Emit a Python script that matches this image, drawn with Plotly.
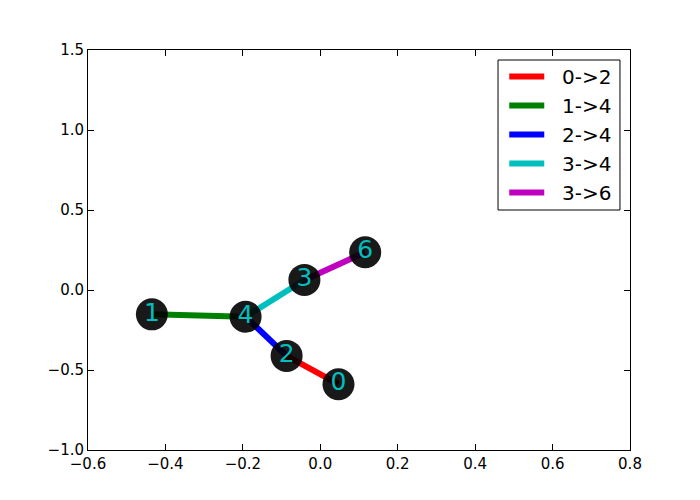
import plotly.graph_objects as go

font_family = 'DejaVu Sans'

node_ids = ['0', '1', '2', '3', '4', '6']
node_x = [0.047, -0.435, -0.087, -0.041, -0.193, 0.116]
node_y = [-0.589, -0.152, -0.412, 0.063, -0.167, 0.236]

edge_names = ['0->2', '1->4', '2->4', '3->4', '3->6']
edge_from = ['0', '1', '2', '3', '3']
edge_to = ['2', '4', '4', '4', '6']
edge_colors = ['#ff0000', '#008000', '#0000ff', '#00bfbf', '#bf00bf']

pos = {n: (x, y) for n, x, y in zip(node_ids, node_x, node_y)}

fig = go.Figure()

for name, a, b, color in zip(edge_names, edge_from, edge_to, edge_colors):
    fig.add_trace(go.Scatter(
        x=[pos[a][0], pos[b][0]],
        y=[pos[a][1], pos[b][1]],
        mode='lines',
        line=dict(color=color, width=6),
        # nbsp pad so the label sits further from the line sample, like mpl
        name='\u00a0\u00a0' + name,
    ))

fig.add_trace(go.Scatter(
    x=node_x,
    y=node_y,
    mode='markers+text',
    marker=dict(size=32, color='rgba(0,0,0,0.9)', line=dict(width=0)),
    text=node_ids,
    textposition='middle center',
    textfont=dict(color='#00bfbf', size=25, family=font_family),
    showlegend=False,
    hoverinfo='skip',
))

axis_style = dict(
    showgrid=False,
    zeroline=False,
    showline=True,
    linecolor='black',
    linewidth=1,
    mirror='ticks',
    ticks='inside',
    ticklen=6,
    tickcolor='black',
    tickfont=dict(size=15, color='black', family=font_family),
)

fig.update_xaxes(range=[-0.6, 0.8], dtick=0.2, tickformat='.1f', **axis_style)
fig.update_yaxes(range=[-1.0, 1.5], dtick=0.5, tickformat='.1f', **axis_style)

# legend frame drawn by hand, matplotlib style (wider than plotly's own)
fig.add_shape(type='rect', xref='paper', yref='paper',
              x0=0.7565, x1=0.9815, y0=0.6, y1=0.975,
              line=dict(color='black', width=1), fillcolor='white',
              layer='below')

fig.update_layout(
    width=700,
    height=500,
    margin=dict(l=80, r=78, t=42, b=58),
    paper_bgcolor='white',
    plot_bgcolor='white',
    font=dict(family=font_family, color='black'),
    legend=dict(
        x=0.768, y=0.9825,
        xanchor='left', yanchor='top',
        borderwidth=0,
        bgcolor='rgba(0,0,0,0)',
        font=dict(size=20, family=font_family),
        tracegroupgap=0,
        itemwidth=35,
    ),
)

fig.write_html('out.html')
